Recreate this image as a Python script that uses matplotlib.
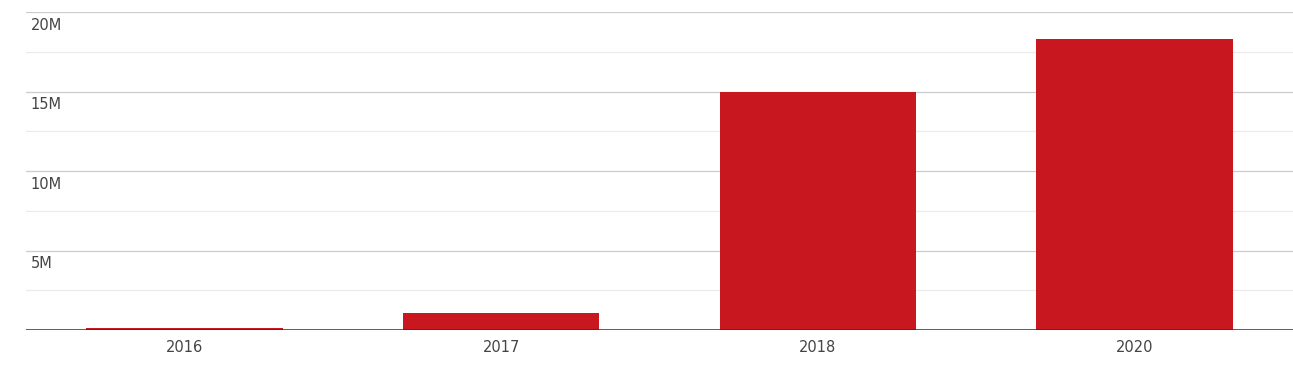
import matplotlib
matplotlib.use("Agg")
import matplotlib.pyplot as plt
import numpy as np

years = ["2016", "2017", "2018", "2020"]
values = [0.12e6, 1.07e6, 15.0e6, 18.3e6]
major_ticks = [5e6, 10e6, 15e6, 20e6]
major_labels = ["5M", "10M", "15M", "20M"]
minor_ticks = [2.5e6, 7.5e6, 12.5e6, 17.5e6]

bar_color = "#c8171f"
text_color = "#444444"

fig = plt.figure(figsize=(12.93, 3.84), dpi=100)
ax = fig.add_axes([26 / 1293, 54 / 384, 1 - 26 / 1293, 318 / 384])

x = np.arange(len(years))
ax.bar(x, values, width=0.62, color=bar_color, zorder=3)

ax.set_xlim(-0.5, len(years) - 0.5)
ax.set_ylim(0, 20e6)

# gridlines
for v in major_ticks:
    ax.axhline(v, color="#cccccc", linewidth=0.9, zorder=1)
for v in minor_ticks:
    ax.axhline(v, color="#ebebeb", linewidth=0.9, zorder=1)
ax.axhline(0, color="#333333", linewidth=1.1, zorder=4)

# y labels inside the plot, under each gridline
for v, lab in zip(major_ticks, major_labels):
    ax.annotate(lab, xy=(0, v), xycoords=("axes fraction", "data"),
                xytext=(3.5, -4), textcoords="offset points",
                ha="left", va="top", fontsize=10.5, color=text_color)

ax.set_yticks([])
ax.set_xticks(x)
ax.set_xticklabels(years, fontsize=10.5, color=text_color)
ax.tick_params(axis="x", length=0, pad=7)

for s in ax.spines.values():
    s.set_visible(False)

fig.savefig("out.png", dpi=100)
